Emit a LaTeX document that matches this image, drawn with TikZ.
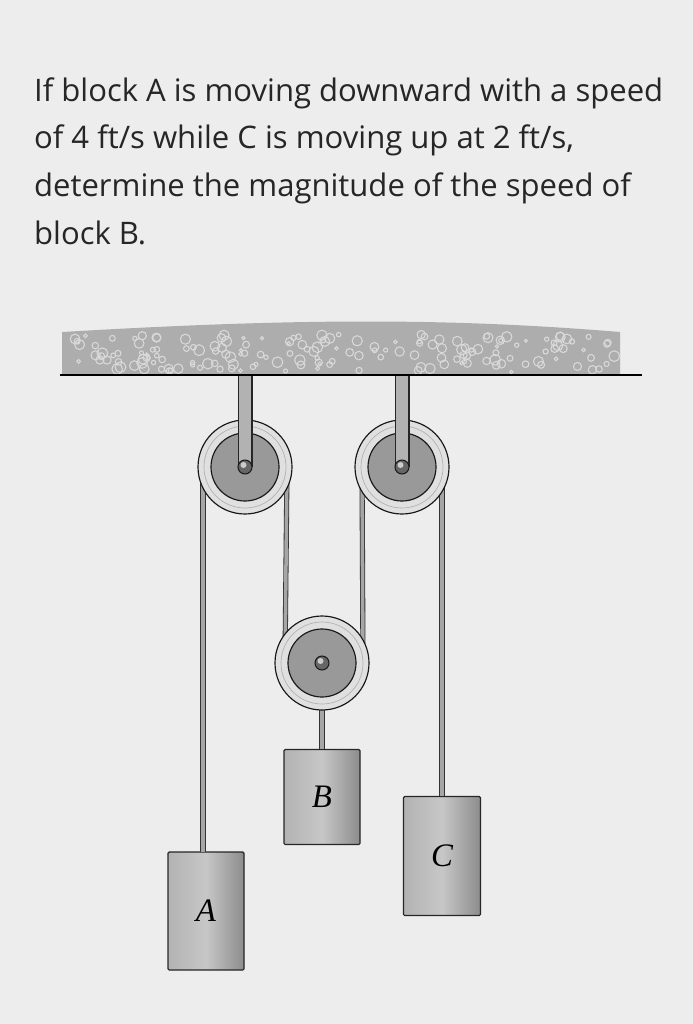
\documentclass[tikz,border=0pt]{standalone}
\usepackage{fontspec}
\usetikzlibrary{calc}
\setmainfont{Open Sans}
\begin{document}
\begin{tikzpicture}[x=0.03cm,y=-0.03cm,
  rope/.style={draw=black!80,line width=0.7pt,double=black!35,double distance=3pt},
  rod/.style={draw=black!85,line width=0.9pt,double=black!30,double distance=11pt},
  blk/.style={draw=black!85,line width=1pt,rounded corners=1pt,left color=black!30,right color=black!45,middle color=black!22},
  lbl/.style={font=\fontspec{Liberation Serif}\itshape\fontsize{28}{30}\selectfont},
  txt/.style={anchor=base west,font=\fontsize{26.5}{28}\selectfont,text=black!85}]
\fill[black!7] (0,0) rectangle (693,1024);
\useasboundingbox (0,0) rectangle (693,1024);
% text
\node[txt] (t1) at (30,101) {If block A is moving downward with a speed};
\node[txt] (t2) at (30,148) {of 4 ft/s while C is moving up at 2 ft/s,};
\node[txt] (t3) at (30,196) {determine the magnitude of the speed of};
\node[txt] (t4) at (30,244) {block B.};
% ceiling
\fill[black!32] (62,332) .. controls (300,318) and (450,318) .. (620,332) -- (620,375) -- (62,375) -- cycle;
\pgfmathsetseed{7}
\foreach \i in {1,...,170}{
  \pgfmathsetmacro\bx{75+540*rnd}
  \pgfmathsetmacro\by{334+38*rnd}
  \pgfmathsetmacro\br{1.5+4*rnd}
  \draw[white!85!black,line width=0.9pt] (\bx,\by) circle[radius=\br];
}
\draw[line width=1.3pt] (60,375) -- (642,375);
% coordinates
\coordinate (p1) at (245,467);
\coordinate (p2) at (402,467);
\coordinate (p3) at (322,663);
\node[blk,minimum width=76*0.03cm,minimum height=95*0.03cm,lbl] (B) at (322,797) {B};
\node[blk,minimum width=77*0.03cm,minimum height=119*0.03cm,lbl] (C) at (442,856) {C};
\node[blk,minimum width=76*0.03cm,minimum height=118*0.03cm,lbl] (A) at (206,911) {A};
% ropes
\draw[rope] (203,467) -- (203,852);
\draw[rope] (287,467) -- (285,663);
\draw[rope] (362,467) -- (363,663);
\draw[rope] (442,467) -- (C.north);
\draw[rope] (p3) -- (B.north);
% pulleys
\foreach \p in {p1,p2,p3}{
  \fill[black!12,draw=black!90,line width=1pt] (\p) circle[radius=47];
  \draw[white!70!black,line width=0.6pt] (\p) circle[radius=41];
  \fill[black!40,draw=black!90,line width=1pt] (\p) circle[radius=34];
}
\draw[rod] (245,376) -- (p1);
\draw[rod] (402,376) -- (p2);
\foreach \p in {p1,p2,p3}{
  \fill[black!60,draw=black!90,line width=0.9pt] (\p) circle[radius=7];
  \fill[white!80!black] ($(\p)+(-1.5,-2)$) circle[radius=3];
}
\end{tikzpicture}
\end{document}
